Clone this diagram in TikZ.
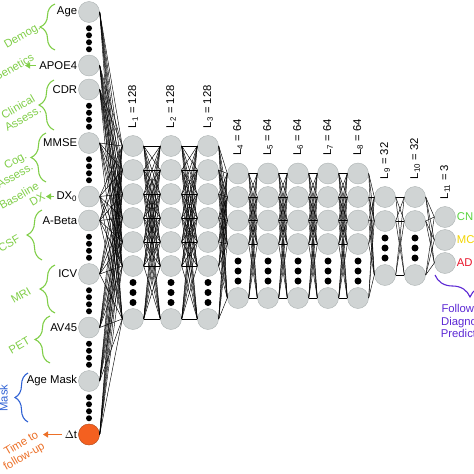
\documentclass[tikz,border=0pt]{standalone}
\usepackage{fontspec}
\setmainfont{Liberation Sans}
\usetikzlibrary{arrows.meta,decorations.pathreplacing}
\definecolor{unitgray}{RGB}{208,212,212}
\definecolor{unitedge}{RGB}{172,178,178}
\definecolor{dtorange}{RGB}{244,96,32}
\definecolor{grpgreen}{RGB}{128,206,72}
\definecolor{maskblue}{RGB}{48,98,212}
\definecolor{timeorange}{RGB}{236,112,40}
\definecolor{predviolet}{RGB}{92,40,212}
\definecolor{cngreen}{RGB}{88,212,60}
\definecolor{mciyellow}{RGB}{242,212,0}
\definecolor{adred}{RGB}{232,20,42}
\newcommand{\featfont}{\fontsize{11.3}{12.5}\selectfont}
\tikzset{
  unit/.style={circle,fill=unitgray,draw=unitedge,line width=0.4pt,minimum size=21pt,inner sep=0pt},
  link/.style={line width=0.45pt,black},
  feat/.style={anchor=east,inner sep=1pt,font=\featfont},
  layerlbl/.style={rotate=90,anchor=west,inner sep=0pt,font=\featfont},
  grpbrace/.style={decorate,decoration={brace,amplitude=15pt},line width=1.1pt},
  grplbl/.style={rotate=30,anchor=east,align=right,inner sep=0pt,font=\featfont},
  grparrow/.style={line width=1.4pt,-{Triangle[length=5pt,width=6pt]}},
}

\begin{document}
\begin{tikzpicture}[x=1pt,y=-1pt]
  \path[use as bounding box,clip] (0,0) rectangle (474,474);

  % input features
  \foreach \y/\txt [count=\i] in {12/Age,65.5/APOE4,89.5/CDR,143/MMSE,196.5/DX\textsubscript{0},
      220.5/A-Beta,274/ICV,327.5/AV45,381/Age Mask,434.5/$\Delta$t}{
    \node[unit] (in-\i) at (89,\y) {};
    \node[feat] (lbl-\i) at (in-\i.west) {\txt};
  }
  \node[unit,fill=dtorange,draw=dtorange!80!black] at (in-10) {};
  \foreach \y in {12,89.5,143,220.5,274,327.5,381}
    \foreach \d in {16.25,23.25,30.25,37.25}
      \fill (89,\y+\d) circle (3);

  % hidden layers
  \foreach \l/\x in {1/133,2/171,3/208}{
    \foreach \y [count=\i] in {146,170,194,218,242,266,319}
      \node[unit] (h\l-\i) at (\x,\y) {};
    \foreach \y in {282.5,292.5,302.5} \fill (\x,\y) circle (3.5);
    \node[layerlbl] at ([yshift=7pt]h\l-1.north) {L\textsubscript{\l} = 128};
  }
  \foreach \l/\x in {4/238,5/268,6/298,7/328,8/358}{
    \foreach \y [count=\i] in {173.5,197,220.5,244,298}
      \node[unit] (h\l-\i) at (\x,\y) {};
    \foreach \y in {261,271,281} \fill (\x,\y) circle (3.5);
    \node[layerlbl] at ([yshift=7pt]h\l-1.north) {L\textsubscript{\l} = 64};
  }
  \foreach \l/\x in {9/385,10/415}{
    \foreach \y [count=\i] in {197,221,275}
      \node[unit] (h\l-\i) at (\x,\y) {};
    \foreach \y in {238,248,258} \fill (\x,\y) circle (3.5);
    \node[layerlbl] at ([yshift=7pt]h\l-1.north) {L\textsubscript{\l} = 32};
  }
  % output layer
  \foreach \y/\txt/\col [count=\i] in {217/CN/cngreen,240/MCI/mciyellow,263/AD/adred}{
    \node[unit] (h11-\i) at (445,\y) {};
    \node[anchor=west,inner sep=1pt,font=\featfont,text=\col] (out-\i) at (h11-\i.east) {\txt};
  }
  \node[layerlbl] at ([yshift=7pt]h11-1.north) {L\textsubscript{11} = 3};

  % connections
  \foreach \i in {1,...,10}
    \foreach \j in {1,...,7}
      \draw[link] (in-\i.east) -- (h1-\j.west);
  \foreach \a/\b/\m/\n in {1/2/7/7,2/3/7/7,3/4/7/5,4/5/5/5,5/6/5/5,6/7/5/5,7/8/5/5,8/9/5/3,9/10/3/3,10/11/3/3}
    \foreach \i in {1,...,\m}
      \foreach \j in {1,...,\n}
        \draw[link] (h\a-\i.east) -- (h\b-\j.west);

  % feature groups
  \begin{scope}[draw=grpgreen,text=grpgreen]
    \draw[grpbrace] (55,50) -- (55,4);
    \node[grplbl] (g-demog) at (40,26) {Demog.};
    \coordinate (gen-end) at (25,65.5);
    \draw[grparrow,grpgreen] ([xshift=-2pt]lbl-2.west) -- (gen-end);
    \node[grplbl] (g-gen) at (33,56) {Genetics};
    \draw[grpbrace] (54,130) -- (54,80);
    \node[grplbl] (g-clin) at (37,103) {Clinical\\Assess.};
    \draw[grpbrace] (46,182) -- (46,133);
    \node[grplbl] (g-cog) at (29,160) {Cog.\\Assess.};
    \coordinate (dx-end) at (46,196.5);
    \draw[grparrow,grpgreen] ([xshift=-1pt]lbl-5.west) -- (dx-end);
    \node[grplbl] (g-dx) at (41,190) {Baseline\\DX};
    \draw[grpbrace] (42,260) -- (42,210);
    \node[grplbl] (g-csf) at (19,238) {CSF};
    \draw[grpbrace] (55,313) -- (55,265);
    \node[grplbl] (g-mri) at (30,290) {MRI};
    \draw[grpbrace] (50,363) -- (50,316);
    \node[grplbl] (g-pet) at (29,340) {PET};
  \end{scope}
  \draw[grpbrace,draw=maskblue,decoration={amplitude=13pt}] (28,422) -- (28,373);
  \node[rotate=90,anchor=south,inner sep=0pt,font=\featfont,text=maskblue] (g-mask) at (8,398) {Mask};
  \coordinate (dt-end) at (43,434.5);
  \draw[grparrow,timeorange] ([xshift=-2pt]lbl-10.west) -- (dt-end);
  \node[grplbl,text=timeorange] (g-time) at (41,440) {Time to\\follow-up};

  % prediction
  \draw[grpbrace,draw=predviolet,decoration={amplitude=22pt}] (505,275) -- (435,275);
  \node[align=center,inner sep=0pt,font=\featfont,text=predviolet] (pred) at (466,321) {Follow-up\\Diagnosis\\Prediction};
\end{tikzpicture}
\end{document}
